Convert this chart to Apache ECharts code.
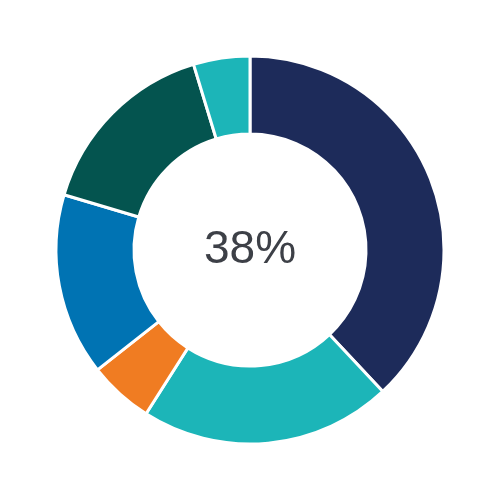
<!DOCTYPE html>
<html>
<head>
<meta charset="utf-8">
<script src="https://cdn.jsdelivr.net/npm/echarts@6/dist/echarts.min.js"></script>
<style>
	html, body { margin: 0; padding: 0; background: #fff; }
	#chart { width: 500px; height: 500px; }
</style>
</head>
<body>
<div id="chart"></div>
<script>
var names = [ "A", "B", "C", "D", "E", "F" ];
var values = [ 38, 21, 5.4, 15.2, 15.7, 4.7 ];
var colors = [ "#1d2b5a", "#1cb5b8", "#f07c22", "#0073b3", "#04544f", "#1cb5b8" ];
var centerText = "38%";

(function() {
	var chart = echarts.init(document.getElementById('chart'));
	var data = [];
	for (var i = 0; i < values.length; i++) {
		data.push({
			name : names[i],
			value : values[i],
			itemStyle : {
				color : colors[i]
			}
		});
	}
	var option = {
		animation : false,
		title : {
			text : centerText,
			left : 'center',
			top : 'middle',
			textStyle : {
				fontFamily : 'Liberation Sans',
				fontSize : 46,
				fontWeight : 'normal',
				color : '#3d4047'
			}
		},
		series : [ {
			type : 'pie',
			center : [ 250, 250 ],
			radius : [ 116, 194 ],
			startAngle : 90,
			clockwise : true,
			label : {
				show : false
			},
			labelLine : {
				show : false
			},
			itemStyle : {
				borderColor : '#fff',
				borderWidth : 3
			},
			data : data
		} ]
	};
	chart.setOption(option);
})();
</script>
</body>
</html>
